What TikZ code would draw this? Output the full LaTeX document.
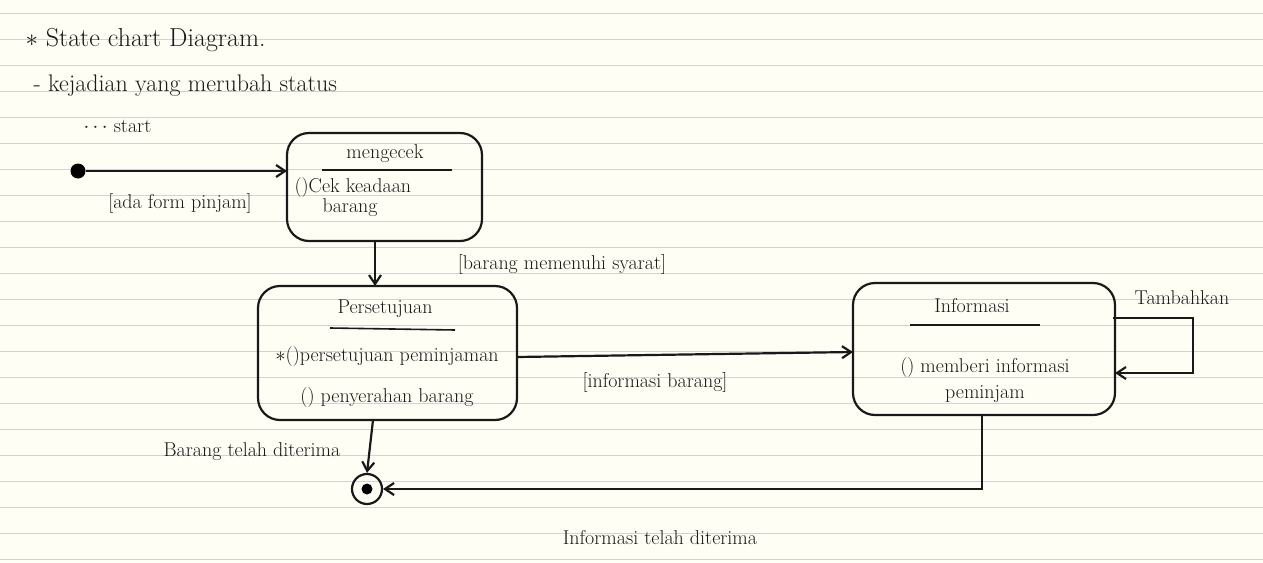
\documentclass[tikz,border=0pt]{standalone}
\usepackage{fontspec}
\usetikzlibrary{arrows.meta}
\begin{document}
\begin{tikzpicture}[x=1pt,y=-1pt,
  ink/.style={draw=black!90,line width=2.2pt},
  conn/.style={ink,-{Straight Barb[length=9pt,width=12pt]}},
  state/.style={ink,rounded corners=22pt},
  lbl/.style={font=\fontsize{20}{22}\selectfont,text=black!90}]
\fill[white!96!yellow] (0,0) rectangle (1263,562);
\useasboundingbox (0,0) rectangle (1263,562);
\foreach \k in {0,...,21} \draw[gray!35,line width=0.8pt] (0,{13+26*\k}) -- (1263,{13+26*\k});
% headings
\node[lbl,anchor=west,font=\fontsize{26}{28}\selectfont] (h1) at (22,40) {$\ast$ State chart Diagram.};
\node[lbl,anchor=west,font=\fontsize{24}{26}\selectfont] (h2) at (30,86) {- kejadian yang merubah status};
\node[lbl,anchor=west] (st) at (80,126) {$\cdots$ start};
% states
\draw[state] (287,133) rectangle (482,241);
\coordinate (mT) at (375,133); \coordinate (mB) at (375,241); \coordinate (mL) at (287,171);
\node[lbl] (mname) at (385,154) {mengecek};
\draw[ink,line width=1.6pt] (322,170) -- (452,170);
\node[lbl,align=left,anchor=north west] (mact) at (291,174) {()Cek keadaan\\[-2pt]\hspace*{1.4em}barang};
\draw[state] (258,286) rectangle (517,420);
\coordinate (pT) at (375,286); \coordinate (pB) at (373,420); \coordinate (pR) at (517,357);
\node[lbl] (pname) at (385,309) {Persetujuan};
\draw[ink,line width=1.6pt] (330,328) -- (455,330);
\node[lbl] (pa1) at (387,357) {$\ast$()persetujuan peminjaman};
\node[lbl] (pa2) at (387,398) {() penyerahan barang};
\draw[state] (853,283) rectangle (1115,415);
\coordinate (iL) at (853,352); \coordinate (iB) at (982,415);
\coordinate (iR1) at (1113,318); \coordinate (iR2) at (1115,373);
\node[lbl] (iname) at (972,306) {Informasi};
\draw[ink,line width=1.6pt] (910,325) -- (1040,325);
\node[lbl,align=center] (ia) at (985,380) {() memberi informasi\\[4pt]peminjam};
% start / end
\node[circle,fill=black,minimum size=15pt,inner sep=0pt] (s) at (78,171) {};
\node[circle,ink,minimum size=30pt,inner sep=0pt] (e) at (367,489) {};
\node[circle,fill=black,minimum size=11pt,inner sep=0pt] (ed) at (e.center) {};
% connectors
\draw[conn] (s) -- (mL);
\draw[conn] (mB) -- (pT);
\draw[conn] (pR) -- (iL);
\draw[conn] (pB) -- (e.north);
\draw[conn] (iB) |- (e.east);
\draw[conn] (iR1) -- (1193,318) -- (1193,373) -- (iR2);
% labels
\node[lbl] (l1) at (180,203) {[ada form pinjam]};
\node[lbl] (l2) at (562,264) {[barang memenuhi syarat]};
\node[lbl] (l3) at (655,382) {[informasi barang]};
\node[lbl] (l4) at (1182,298) {Tambahkan};
\node[lbl] (l5) at (252,452) {Barang telah diterima};
\node[lbl] (l6) at (660,538) {Informasi telah diterima};
\end{tikzpicture}
\end{document}
